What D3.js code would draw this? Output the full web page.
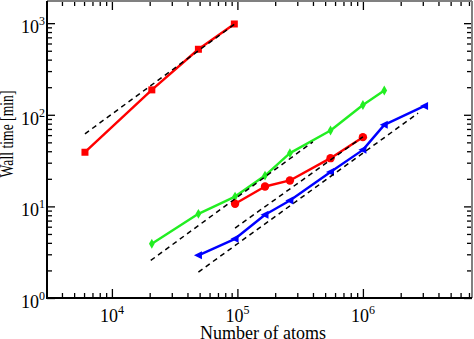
<!DOCTYPE html>
<html><head><meta charset="utf-8">
<script src="https://cdn.jsdelivr.net/npm/d3@7"></script>
<style>body{margin:0;background:#fff}svg{display:block}text{font-family:"Liberation Serif","Times New Roman",serif;fill:#000}</style>
</head><body>
<script>
// ---- data ----
const sqAtoms = [6100, 20800, 48900, 94500];
const sqTime = [39, 187, 519, 980];
const greenAtoms = [20800, 48900, 95800, 166000, 262000, 552000, 1000000, 1480000];
const greenTime = [3.91, 8.3, 12.8, 21.7, 38.1, 67.3, 128, 184];
const circAtoms = [95800, 166000, 262000, 552000, 1000000];
const circTime = [10.7, 16.5, 19.2, 33.6, 57];
const blueAtoms = [48900, 95800, 166000, 262000, 552000, 1000000, 1480000, 3100000];
const blueTime = [2.92, 4.43, 8.1, 11.6, 23.7, 41.4, 77.6, 125];
const fitSqAtoms = [6100, 95000], fitSqTime = [62, 975];
const fitGreenAtoms = [20400, 399000], fitGreenTime = [2.57, 50.6];
const fitCircAtoms = [95800, 1000000], fitCircTime = [5.8, 57.4];
const fitBlueAtoms = [48900, 2750000], fitBlueTime = [1.92, 104];
const xTickExps = [4, 5, 6];
const yTickExps = [0, 1, 2, 3];
const xTitle = "Number of atoms";
const yTitle = "Wall time [min]";

// ---- layout ----
const W = 474, H = 339;
const L = 47, R = 472, T = 1, B = 298;
const svg = d3.select("body").append("svg").attr("width", W).attr("height", H);
const x = d3.scaleLog().domain([3040, 7.4e6]).range([L, R]);
const y = d3.scaleLog().domain([1, 1746]).range([B, T]);

const xMajor = xTickExps.map(e => Math.pow(10, e));
const yMajor = yTickExps.map(e => Math.pow(10, e));
const isPow = v => Math.abs(Math.log10(v) - Math.round(Math.log10(v))) < 1e-9;
const xMinor = x.ticks().filter(v => !isPow(v));
const yMinor = y.ticks().filter(v => !isPow(v));

function ax(gen, tr, vals, size) {
  const g = svg.append("g").attr("transform", tr)
    .call(gen.tickValues(vals).tickSizeInner(size).tickSizeOuter(0).tickFormat(""));
  g.select(".domain").remove();
  g.selectAll(".tick line").attr("stroke", "#000").attr("stroke-width", 1.3);
  return g;
}
// bottom (ticks inward = up)
ax(d3.axisBottom(x), `translate(0,${B})`, xMajor, -9);
ax(d3.axisBottom(x), `translate(0,${B})`, xMinor, -5);
// top (ticks down)
ax(d3.axisTop(x), `translate(0,${T})`, xMajor, -9);
ax(d3.axisTop(x), `translate(0,${T})`, xMinor, -5);
// left (ticks right)
ax(d3.axisLeft(y), `translate(${L},0)`, yMajor, -8);
ax(d3.axisLeft(y), `translate(${L},0)`, yMinor, -5);
// right (ticks left)
ax(d3.axisRight(y), `translate(${R},0)`, yMajor, -8);
ax(d3.axisRight(y), `translate(${R},0)`, yMinor, -5);

// frame
svg.append("line").attr("x1", L).attr("x2", R).attr("y1", T).attr("y2", T).attr("stroke", "#808080").attr("stroke-width", 2);
svg.append("line").attr("x1", R).attr("x2", R).attr("y1", T).attr("y2", B).attr("stroke", "#808080").attr("stroke-width", 2);
svg.append("line").attr("x1", L).attr("x2", L).attr("y1", T).attr("y2", B + 1).attr("stroke", "#000").attr("stroke-width", 2);
svg.append("line").attr("x1", L - 1).attr("x2", R).attr("y1", B).attr("y2", B).attr("stroke", "#000").attr("stroke-width", 2);

// tick labels
xTickExps.forEach(e => {
  const t = svg.append("text").attr("x", x(Math.pow(10, e))).attr("y", 322)
    .attr("text-anchor", "middle").attr("font-size", 18);
  t.append("tspan").text("10");
  t.append("tspan").attr("dy", -8).attr("font-size", 12).text(e);
});
yTickExps.forEach(e => {
  const t = svg.append("text").attr("x", 45).attr("y", y(Math.pow(10, e)) + 10)
    .attr("text-anchor", "end").attr("font-size", 18);
  t.append("tspan").text("10");
  t.append("tspan").attr("dy", -8).attr("font-size", 12).text(e);
});

// titles
svg.append("text").attr("x", 263).attr("y", 339).attr("text-anchor", "middle")
  .attr("font-size", 18).text(xTitle);
svg.append("text").attr("transform", "translate(13,134) rotate(-90)")
  .attr("text-anchor", "middle").attr("font-size", 19)
  .attr("textLength", 87).attr("lengthAdjust", "spacingAndGlyphs").text(yTitle);

// series
const line = d3.line().x(d => x(d[0])).y(d => y(d[1]));
const zip = (a, b) => a.map((v, i) => [v, b[i]]);
const plot = svg.append("g");

function series(ax_, ay_, color, shape) {
  const pts = zip(ax_, ay_);
  plot.append("path").attr("d", line(pts)).attr("fill", "none")
    .attr("stroke", color).attr("stroke-width", 2.4).attr("stroke-linejoin", "round");
  const g = plot.append("g");
  pts.forEach(p => {
    const cx = x(p[0]), cy = y(p[1]);
    if (shape === "square") g.append("rect").attr("x", cx - 3.5).attr("y", cy - 3.5).attr("width", 7).attr("height", 7).attr("fill", color);
    else if (shape === "circle") g.append("circle").attr("cx", cx).attr("cy", cy).attr("r", 4.2).attr("fill", color);
    else if (shape === "diamond") g.append("path").attr("transform", `translate(${cx},${cy})`).attr("d", d3.symbol(d3.symbolDiamond, 28)()).attr("fill", color);
    else if (shape === "triLeft") g.append("path").attr("transform", `translate(${cx},${cy})`).attr("d", "M-4.5,0L3.5,-4L3.5,4Z").attr("fill", color);
  });
}
series(sqAtoms, sqTime, "#ff0000", "square");
series(greenAtoms, greenTime, "#22ee22", "diamond");
series(circAtoms, circTime, "#ff0000", "circle");
series(blueAtoms, blueTime, "#0000ff", "triLeft");

[[fitSqAtoms, fitSqTime], [fitGreenAtoms, fitGreenTime], [fitCircAtoms, fitCircTime], [fitBlueAtoms, fitBlueTime]]
  .forEach(([a, b]) => {
    plot.append("path").attr("d", line(zip(a, b))).attr("fill", "none")
      .attr("stroke", "#000").attr("stroke-width", 1.5).attr("stroke-dasharray", "5,4");
  });
</script>
</body></html>
